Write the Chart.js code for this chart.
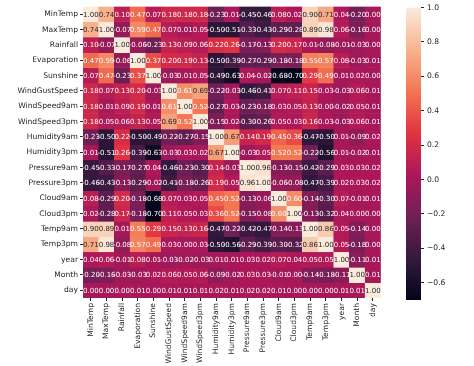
<!DOCTYPE html>
<html>
<head>
<meta charset="utf-8">
<script src="https://cdn.jsdelivr.net/npm/chart.js@4"></script>
<style>
  body { margin: 0; background: #fff; }
  #wrap { position: relative; width: 474px; height: 366px; }
  #heat { position: absolute; left: 0; top: 0; }
  #bar { position: absolute; left: 384px; top: 0; }
</style>
</head>
<body>
<div id="wrap">
  <canvas id="heat" width="384" height="366"></canvas>
  <canvas id="bar" width="90" height="366"></canvas>
</div>
<script>
// variable names (rows and columns are the same)
const names = ['MinTemp', 'MaxTemp', 'Rainfall', 'Evaporation', 'Sunshine', 'WindGustSpeed',
  'WindSpeed9am', 'WindSpeed3pm', 'Humidity9am', 'Humidity3pm', 'Pressure9am', 'Pressure3pm',
  'Cloud9am', 'Cloud3pm', 'Temp9am', 'Temp3pm', 'year', 'Month', 'day'];

// correlation matrix, one row per variable
const corr = [
  [1.00, 0.74, 0.10, 0.47, 0.07, 0.18, 0.18, 0.18, -0.23, 0.01, -0.45, -0.46, 0.08, 0.02, 0.90, 0.71, 0.04, -0.20, 0.00],
  [0.74, 1.00, -0.07, 0.59, 0.47, 0.07, 0.01, 0.05, -0.50, -0.51, -0.33, -0.43, -0.29, -0.28, 0.89, 0.98, 0.06, -0.16, 0.00],
  [0.10, -0.07, 1.00, -0.06, -0.23, 0.13, 0.09, 0.06, 0.22, 0.26, -0.17, -0.13, 0.20, 0.17, 0.01, -0.08, -0.01, -0.03, 0.00],
  [0.47, 0.59, -0.06, 1.00, 0.37, 0.20, 0.19, 0.13, -0.50, -0.39, -0.27, -0.29, -0.18, -0.18, 0.55, 0.57, 0.08, -0.03, 0.01],
  [0.07, 0.47, -0.23, 0.37, 1.00, -0.03, 0.01, 0.05, -0.49, -0.63, 0.04, -0.02, -0.68, -0.70, 0.29, 0.49, 0.01, 0.02, 0.00],
  [0.18, 0.07, 0.13, 0.20, -0.03, 1.00, 0.61, 0.69, -0.22, -0.03, -0.46, -0.41, 0.07, 0.11, 0.15, 0.03, -0.03, 0.06, 0.01],
  [0.18, 0.01, 0.09, 0.19, 0.01, 0.61, 1.00, 0.52, -0.27, 0.03, -0.23, -0.18, 0.03, 0.05, 0.13, 0.00, -0.02, 0.05, 0.01],
  [0.18, 0.05, 0.06, 0.13, 0.05, 0.69, 0.52, 1.00, -0.15, 0.02, -0.30, -0.26, 0.05, 0.03, 0.16, 0.03, -0.03, 0.06, 0.01],
  [-0.23, -0.50, 0.22, -0.50, -0.49, -0.22, -0.27, -0.15, 1.00, 0.67, 0.14, 0.19, 0.45, 0.36, -0.47, -0.50, 0.01, -0.09, 0.02],
  [0.01, -0.51, 0.26, -0.39, -0.63, -0.03, 0.03, 0.02, 0.67, 1.00, -0.03, 0.05, 0.52, 0.52, -0.22, -0.56, 0.01, -0.02, 0.01],
  [-0.45, -0.33, -0.17, -0.27, 0.04, -0.46, -0.23, -0.30, 0.14, -0.03, 1.00, 0.96, -0.13, -0.15, -0.42, -0.29, 0.03, 0.03, 0.02],
  [-0.46, -0.43, -0.13, -0.29, -0.02, -0.41, -0.18, -0.26, 0.19, 0.05, 0.96, 1.00, -0.06, -0.08, -0.47, -0.39, 0.02, 0.03, 0.02],
  [0.08, -0.29, 0.20, -0.18, -0.68, 0.07, 0.03, 0.05, 0.45, 0.52, -0.13, -0.06, 1.00, 0.60, -0.14, -0.30, 0.07, -0.01, 0.01],
  [0.02, -0.28, 0.17, -0.18, -0.70, 0.11, 0.05, 0.03, 0.36, 0.52, -0.15, -0.08, 0.60, 1.00, -0.13, -0.32, 0.04, 0.00, 0.00],
  [0.90, 0.89, 0.01, 0.55, 0.29, 0.15, 0.13, 0.16, -0.47, -0.22, -0.42, -0.47, -0.14, -0.13, 1.00, 0.86, 0.05, -0.14, 0.00],
  [0.71, 0.98, -0.08, 0.57, 0.49, 0.03, 0.00, 0.03, -0.50, -0.56, -0.29, -0.39, -0.30, -0.32, 0.86, 1.00, 0.05, -0.18, 0.00],
  [0.04, 0.06, -0.01, 0.08, 0.01, -0.03, -0.02, -0.03, 0.01, 0.01, 0.03, 0.02, 0.07, 0.04, 0.05, 0.05, 1.00, -0.11, 0.01],
  [-0.20, -0.16, -0.03, -0.03, 0.02, 0.06, 0.05, 0.06, -0.09, -0.02, 0.03, 0.03, -0.01, 0.00, -0.14, -0.18, -0.11, 1.00, 0.01],
  [0.00, 0.00, 0.00, 0.01, 0.00, 0.01, 0.01, 0.01, 0.02, 0.01, 0.02, 0.02, 0.01, 0.00, 0.00, 0.00, 0.01, 0.01, 1.00]
];

// colour scale range and colorbar ticks
const vmin = -0.70;
const vmax = 1.0;
const cbarTicks = [-0.6, -0.4, -0.2, 0.0, 0.2, 0.4, 0.6, 0.8, 1.0];

// seaborn "rocket" approximated by a few stops
const rocket = ['#03051a', '#35193e', '#701f57', '#ad1759', '#e13342', '#f37651', '#f6b48f', '#faebdd'];

function hexToRgb(h) {
  return [parseInt(h.slice(1, 3), 16), parseInt(h.slice(3, 5), 16), parseInt(h.slice(5, 7), 16)];
}

function rocketRgb(t) {
  t = Math.max(0, Math.min(1, t));
  const pos = t * (rocket.length - 1);
  const i = Math.min(Math.floor(pos), rocket.length - 2);
  const f = pos - i;
  const a = hexToRgb(rocket[i]), b = hexToRgb(rocket[i + 1]);
  return a.map((v, k) => Math.round(v + (b[k] - v) * f));
}

function colorFor(v) {
  const c = rocketRgb((v - vmin) / (vmax - vmin));
  return `rgb(${c[0]},${c[1]},${c[2]})`;
}

function textColorFor(v) {
  const c = rocketRgb((v - vmin) / (vmax - vmin)).map(x => {
    x = x / 255;
    return x <= 0.03928 ? x / 12.92 : Math.pow((x + 0.055) / 1.055, 2.4);
  });
  const lum = 0.2126 * c[0] + 0.7152 * c[1] + 0.0722 * c[2];
  return lum > 0.408 ? '#262626' : '#ffffff';
}

const FONT = 'DejaVu Sans';
Chart.defaults.font.family = FONT;
Chart.defaults.color = '#262626';

// write the value into each cell
const annotate = {
  id: 'annotate',
  afterDatasetsDraw(chart) {
    const ctx = chart.ctx;
    ctx.save();
    ctx.font = `7px "${FONT}"`;
    ctx.textAlign = 'center';
    ctx.textBaseline = 'middle';
    chart.data.datasets.forEach((ds, r) => {
      chart.getDatasetMeta(r).data.forEach((bar, c) => {
        const v = corr[r][c];
        const p = bar.getCenterPoint();
        ctx.fillStyle = textColorFor(v);
        ctx.fillText(v.toFixed(2), p.x, p.y + 0.5);
      });
    });
    ctx.restore();
  }
};

// one stacked dataset per row, every cell one unit tall
const datasets = corr.map((row, r) => ({
  label: names[r],
  data: row.map(() => 1),
  backgroundColor: row.map(colorFor),
  borderColor: row.map(colorFor),
  borderWidth: 0.4,
  borderSkipped: false,
  barPercentage: 1,
  categoryPercentage: 1
}));

new Chart(document.getElementById('heat'), {
  type: 'bar',
  data: { labels: names, datasets: datasets },
  options: {
    responsive: false,
    animation: false,
    layout: { padding: { top: 2, right: 1, left: 0, bottom: 0 } },
    plugins: { legend: { display: false }, tooltip: { enabled: false } },
    scales: {
      x: {
        stacked: true,
        grid: { display: true, drawOnChartArea: false, drawTicks: true, tickLength: 3, offset: false, color: '#262626' },
        border: { display: false },
        ticks: { autoSkip: false, minRotation: 90, maxRotation: 90, padding: 2, font: { size: 7.6 } },
        afterFit(axis) { axis.height = 68; }
      },
      y: {
        stacked: true,
        min: 0,
        max: names.length,
        reverse: true,
        grid: { display: true, drawOnChartArea: false, drawTicks: true, tickLength: 3, color: '#262626' },
        border: { display: false },
        afterBuildTicks(axis) { axis.ticks = names.map((n, i) => ({ value: i + 0.5 })); },
        ticks: { autoSkip: false, padding: 2, font: { size: 7.6 }, callback: (v, i) => names[i] },
        afterFit(axis) { axis.width = 83; }
      }
    }
  },
  plugins: [annotate]
});

// colorbar
const cbarGradient = (context) => {
  const { ctx, chartArea } = context.chart;
  if (!chartArea) return null;
  const g = ctx.createLinearGradient(0, chartArea.bottom, 0, chartArea.top);
  for (let i = 0; i <= 40; i++) {
    const t = i / 40;
    const c = rocketRgb(t);
    g.addColorStop(t, `rgb(${c[0]},${c[1]},${c[2]})`);
  }
  return g;
};

new Chart(document.getElementById('bar'), {
  type: 'bar',
  data: {
    labels: [''],
    datasets: [{ data: [[vmin, vmax]], backgroundColor: cbarGradient, borderWidth: 0, barPercentage: 1, categoryPercentage: 1 }]
  },
  options: {
    responsive: false,
    animation: false,
    layout: { padding: { top: 3, right: 0, left: 22, bottom: 66 } },
    plugins: { legend: { display: false }, tooltip: { enabled: false } },
    scales: {
      x: { display: false },
      y: {
        position: 'right',
        min: vmin,
        max: vmax,
        grid: { display: true, drawOnChartArea: false, drawTicks: true, tickLength: 3, color: '#262626' },
        border: { display: false },
        afterBuildTicks(axis) { axis.ticks = cbarTicks.map(v => ({ value: v })); },
        ticks: {
          padding: 3,
          font: { size: 7.6 },
          callback: (v) => (v < -1e-9 ? '\u2212' : '') + Math.abs(v).toFixed(1)
        },
        afterFit(axis) { axis.width = 53; }
      }
    }
  }
});
</script>
</body>
</html>
